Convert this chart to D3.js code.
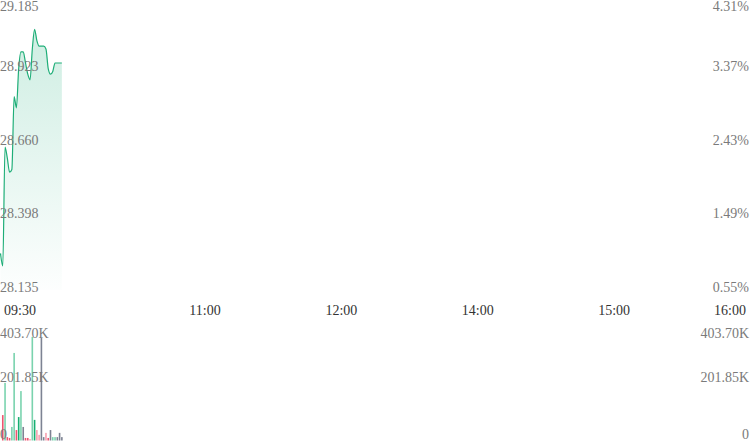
<!DOCTYPE html>
<html>
<head>
<meta charset="utf-8">
<script src="https://cdn.jsdelivr.net/npm/d3@7"></script>
<style>
  body { margin: 0; background: #fff; }
  svg { display: block; font-family: "Liberation Serif", serif; }
</style>
</head>
<body>
<div id="chart"></div>
<script>
// trading minutes since 09:30 (HK session, lunch 12:00-13:00 removed)
const priceMinutes = d3.range(0, 28);
const prices = [28.28, 28.235, 28.66, 28.62, 28.57, 28.58, 28.84, 28.80, 28.94, 29.00,
  29.00, 28.96, 28.92, 28.90, 29.01, 29.08, 29.04, 29.02, 29.02, 29.02,
  29.01, 28.94, 28.92, 28.93, 28.96, 28.96, 28.96, 28.96];

const volMinutes = d3.range(1, 28);
const volumes = [90, 204, 12, 9, 48, 310, 37, 83, 175, 48,
  9, 9, 5, 367, 73, 37, 20, 363, 12, 27,
  9, 37, 12, 12, 12, 27, 12].map(v => v * 1000);
// u = up (light), U = up (strong), d = down, D = down (light), f = flat
const volKinds = ["d", "u", "d", "d", "u", "u", "d", "U", "u", "f",
  "d", "d", "D", "u", "U", "D", "D", "f", "f", "D",
  "d", "f", "u", "u", "f", "f", "f"];

const timeTicks = [0, 90, 150, 210, 270, 330];
const timeLabels = ["09:30", "11:00", "12:00", "14:00", "15:00", "16:00"];

const priceTicks = [28.135, 28.398, 28.660, 28.923, 29.185];
const priceLabels = ["28.135", "28.398", "28.660", "28.923", "29.185"];
const pctLabels = ["0.55%", "1.49%", "2.43%", "3.37%", "4.31%"];

const volTicks = [0, 201850, 403700];
const volLabels = ["0", "201.85K", "403.70K"];

const width = 750, height = 442;
const priceTop = 0, priceBottom = 294;
const volTop = 326.5, volBottom = 440.5;

const kindColor = {
  u: "rgba(34,181,120,0.6)", U: "#16b072", d: "#ee5470",
  D: "rgba(238,84,112,0.55)", f: "#7d8393"
};

const svg = d3.select("#chart").append("svg")
  .attr("width", width)
  .attr("height", height);

const x = d3.scaleLinear().domain([0, 330]).range([0.5, 750.5]);
const yPrice = d3.scaleLinear().domain([28.135, 29.185]).range([priceBottom, priceTop]);
const yVol = d3.scaleLinear().domain([0, 403700]).range([volBottom, volTop]);

// gradient under the price line
const grad = svg.append("defs").append("linearGradient")
  .attr("id", "areaGrad")
  .attr("x1", 0).attr("y1", 0).attr("x2", 0).attr("y2", 1);
grad.append("stop").attr("offset", "0%").attr("stop-color", "#22b07d").attr("stop-opacity", 0.22);
grad.append("stop").attr("offset", "100%").attr("stop-color", "#22b07d").attr("stop-opacity", 0.01);

const pts = priceMinutes.map((m, i) => ({ m: m, p: prices[i] }));

const area = d3.area()
  .x(d => x(d.m))
  .y0(priceBottom - 4)
  .y1(d => yPrice(d.p))
  .curve(d3.curveMonotoneX);

const line = d3.line()
  .x(d => x(d.m))
  .y(d => yPrice(d.p))
  .curve(d3.curveMonotoneX);

svg.append("path")
  .datum(pts)
  .attr("d", area)
  .attr("fill", "url(#areaGrad)");

svg.append("path")
  .datum(pts)
  .attr("d", line)
  .attr("fill", "none")
  .attr("stroke", "#1fae78")
  .attr("stroke-width", 1.2);

// volume bars
svg.append("g")
  .selectAll("rect")
  .data(volMinutes.map((m, i) => ({ m: m, v: volumes[i], k: volKinds[i] })))
  .enter().append("rect")
  .attr("x", d => x(d.m) - 0.8)
  .attr("width", 1.6)
  .attr("y", d => yVol(d.v))
  .attr("height", d => volBottom - yVol(d.v))
  .attr("fill", d => kindColor[d.k]);

// price labels (left) and change labels (right)
const priceAxis = svg.append("g").attr("fill", "#7a7a7a").attr("font-size", 14);
priceTicks.forEach((t, i) => {
  const top = i === priceTicks.length - 1;
  const yy = top ? yPrice(t) + 11 : yPrice(t) - 2;
  priceAxis.append("text").attr("x", 0).attr("y", yy).text(priceLabels[i]);
  priceAxis.append("text").attr("x", 749).attr("y", yy)
    .attr("text-anchor", "end").text(pctLabels[i]);
});

// volume labels
const volAxis = svg.append("g").attr("fill", "#7a7a7a").attr("font-size", 14);
volTicks.forEach((t, i) => {
  const top = i === volTicks.length - 1;
  const yy = top ? yVol(t) + 11 : yVol(t) - 2;
  volAxis.append("text").attr("x", 0).attr("y", yy).text(volLabels[i]);
  volAxis.append("text").attr("x", 749).attr("y", yy)
    .attr("text-anchor", "end").text(volLabels[i]);
});

// time axis
const timeAxis = svg.append("g").attr("fill", "#333").attr("font-size", 14);
timeTicks.forEach((t, i) => {
  let anchor = "middle", xx = x(t);
  if (i === 0) { anchor = "start"; xx = 4; }
  if (i === timeTicks.length - 1) { anchor = "end"; xx = 746; }
  timeAxis.append("text")
    .attr("x", xx)
    .attr("y", 315)
    .attr("text-anchor", anchor)
    .text(timeLabels[i]);
});
</script>
</body>
</html>
